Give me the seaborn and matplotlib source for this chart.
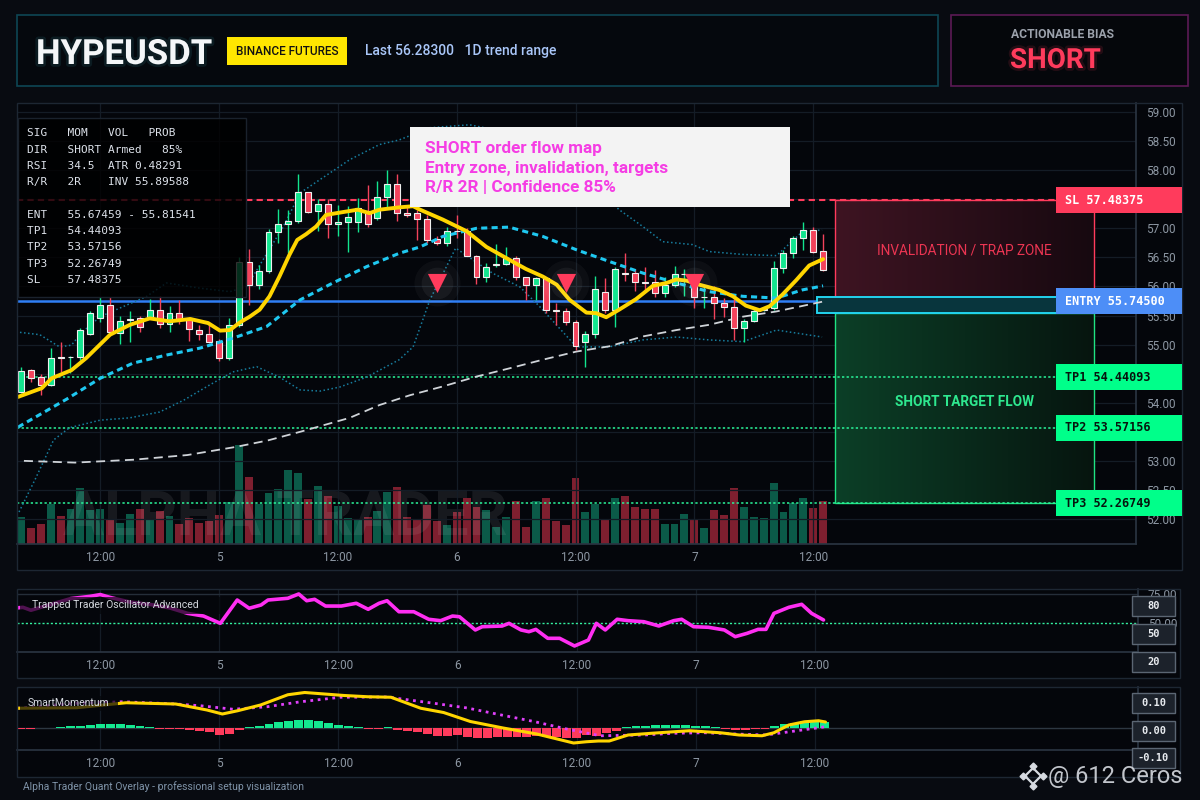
import matplotlib
matplotlib.use("Agg")
import matplotlib.pyplot as plt
import matplotlib.patheffects as pe
import matplotlib.transforms as mtransforms
from matplotlib.colors import LinearSegmentedColormap, to_rgba
from matplotlib.lines import Line2D
from matplotlib.patches import Rectangle
import numpy as np
import pandas as pd
import seaborn as sns

# ---------------- data ----------------
start_time = "2025-12-04 04:00"   # hourly candles, 4th 04:00 -> 7th 13:00

opens = [54.18, 54.56, 54.45, 54.30, 54.78, 54.78, 54.78, 55.18, 55.45, 55.68,
         55.20, 55.42, 55.45, 55.48, 55.60, 55.35, 55.54, 55.45, 55.25, 55.18,
         55.07, 54.77, 55.33, 56.42, 56.02, 56.26, 56.93, 57.07, 57.12, 57.62,
         57.29, 57.42, 57.08, 57.11, 57.11, 57.29, 57.18, 57.54, 57.77, 57.26,
         57.26, 57.16, 56.81, 56.74, 56.96, 56.96, 56.53, 56.16, 56.37, 56.38,
         56.49, 56.16, 56.02, 56.14, 55.59, 55.58, 55.38, 55.04, 55.18, 55.91,
         55.59, 56.23, 56.23, 56.07, 56.07, 55.88, 56.02, 56.21, 56.18, 55.81,
         55.81, 55.71, 55.64, 55.29, 55.40, 55.60, 55.63, 56.31, 56.57, 56.83,
         56.97, 56.61]
highs = [54.61, 54.58, 54.49, 54.94, 55.04, 54.81, 55.29, 55.57, 55.81, 55.81,
         55.50, 55.57, 55.50, 55.78, 55.83, 55.66, 55.77, 55.48, 55.33, 55.34,
         55.10, 55.45, 56.50, 56.64, 56.37, 56.99, 57.33, 57.32, 57.94, 57.63,
         57.50, 57.50, 57.40, 57.38, 57.52, 57.75, 57.81, 58.01, 57.94, 57.38,
         57.32, 57.23, 56.87, 57.03, 57.23, 57.00, 56.54, 56.40, 56.73, 56.68,
         56.52, 56.16, 56.16, 56.16, 55.71, 55.63, 55.43, 55.24, 56.18, 56.14,
         56.34, 56.57, 56.30, 56.34, 56.29, 56.17, 56.36, 56.30, 56.20, 56.00,
         56.00, 55.80, 55.78, 55.44, 55.61, 55.65, 56.43, 56.63, 56.87, 57.10,
         57.02, 56.91]
lows = [54.16, 54.35, 54.13, 54.28, 54.52, 54.51, 54.74, 55.16, 55.38, 55.18,
        55.01, 55.04, 55.21, 55.45, 55.28, 55.22, 55.36, 55.06, 55.08, 55.02,
        54.71, 54.73, 55.31, 55.68, 55.95, 56.23, 56.75, 56.57, 57.09, 57.26,
        56.95, 56.84, 56.87, 56.59, 56.93, 57.03, 57.14, 57.35, 57.12, 57.20,
        56.80, 56.74, 56.72, 56.69, 56.83, 56.52, 56.05, 56.07, 56.33, 56.37,
        56.11, 55.77, 55.77, 55.55, 55.34, 55.34, 54.91, 54.62, 55.11, 55.55,
        55.31, 56.09, 55.92, 55.90, 55.82, 55.82, 55.99, 55.83, 55.63, 55.63,
        55.44, 55.48, 55.08, 55.05, 55.39, 55.57, 55.59, 56.23, 56.49, 56.63,
        56.58, 56.27]
closes = [54.54, 54.42, 54.30, 54.77, 54.77, 54.79, 55.25, 55.54, 55.68, 55.21,
          55.40, 55.42, 55.30, 55.60, 55.35, 55.55, 55.44, 55.26, 55.18, 55.05,
          54.77, 55.34, 56.42, 56.02, 56.26, 56.93, 57.07, 57.13, 57.62, 57.28,
          57.42, 57.07, 57.11, 57.19, 57.35, 57.07, 57.54, 57.77, 57.26, 57.23,
          57.16, 56.80, 56.74, 56.96, 56.95, 56.53, 56.16, 56.34, 56.37, 56.49,
          56.16, 56.02, 56.14, 55.59, 55.58, 55.38, 54.98, 55.18, 55.95, 55.59,
          56.30, 56.22, 56.07, 56.06, 55.88, 56.03, 56.21, 56.21, 55.81, 55.81,
          55.71, 55.64, 55.29, 55.40, 55.58, 55.60, 56.31, 56.57, 56.83, 56.97,
          56.60, 56.28]
volume = [26.7, 15.7, 20.0, 40.0, 28.0, 34.7, 55.7, 34.0, 34.7, 24.0,
          20.7, 30.0, 34.7, 24.7, 33.0, 28.0, 20.0, 25.7, 20.7, 23.3,
          29.0, 42.0, 99.0, 66.7, 40.0, 50.7, 54.7, 74.0, 70.7, 44.7,
          58.0, 48.0, 38.0, 25.7, 24.7, 26.7, 33.0, 52.0, 56.7, 26.7,
          24.0, 39.0, 23.0, 19.0, 32.0, 45.7, 36.7, 34.0, 16.7, 26.7,
          42.7, 16.7, 42.7, 45.7, 23.0, 19.0, 65.7, 31.7, 39.7, 24.7,
          45.7, 48.0, 36.7, 34.7, 34.7, 19.7, 19.7, 30.0, 24.0, 15.7,
          34.0, 29.0, 55.7, 37.0, 27.0, 26.0, 60.7, 32.0, 41.0, 46.0,
          36.0, 42.7]

# overlay lines (x in candle index units)
ema_x = [-0.3, 2.1, 3.1, 5.1, 6.6, 9.0, 11.0, 13.0, 15.0, 17.1, 18.9, 20.1, 21.1,
         22.1, 23.1, 24.1, 25.1, 26.1, 27.1, 27.9, 28.8, 29.8, 30.8, 32.2, 34.0,
         35.2, 36.2, 38.2, 39.6, 40.3, 42.6, 45.0, 47.0, 49.3, 51.0, 52.7, 54.1,
         55.4, 57.1, 58.1, 59.1, 60.4, 62.1, 63.8, 65.2, 66.2, 67.2, 68.5, 70.5,
         71.9, 73.2, 74.6, 75.6, 76.9, 78.3, 79.6, 81.0]
ema_y = [54.10, 54.25, 54.42, 54.56, 54.77, 55.17, 55.34, 55.45, 55.40, 55.44,
         55.37, 55.24, 55.25, 55.38, 55.48, 55.60, 55.83, 56.17, 56.54, 56.80,
         56.90, 57.03, 57.23, 57.27, 57.32, 57.26, 57.32, 57.36, 57.38, 57.32,
         57.15, 56.95, 56.68, 56.46, 56.30, 56.17, 56.03, 55.77, 55.55, 55.54,
         55.47, 55.60, 55.78, 56.01, 56.06, 56.12, 56.10, 56.03, 55.94, 55.83,
         55.67, 55.59, 55.66, 55.86, 56.11, 56.36, 56.47]
trend_x = [-0.3, 4.6, 8.0, 11.3, 14.7, 18.1, 21.4, 24.8, 28.2, 31.5, 34.9, 38.2,
           40.3, 42.6, 46.0, 49.3, 52.7, 56.1, 59.4, 62.8, 66.2, 69.5, 72.9,
           76.3, 78.9, 81.0]
trend_y = [53.58, 54.06, 54.42, 54.68, 54.82, 54.94, 55.11, 55.31, 55.77, 56.06,
           56.34, 56.57, 56.68, 56.86, 57.00, 57.02, 56.86, 56.63, 56.43, 56.23,
           56.06, 55.91, 55.83, 55.80, 55.94, 56.01]
band_up_x = [-0.1, 1.9, 3.9, 5.1, 6.1, 8.0, 12.7, 14.7, 18.1, 21.1, 22.8, 26.5,
             28.2, 33.2, 36.2, 38.2, 41.3, 45.3, 50.4, 54.4, 57.4, 60.4, 62.8,
             64.8, 67.8, 69.5, 72.9, 76.3, 78.9, 80.9]
band_up_y = [55.21, 55.17, 54.96, 54.99, 55.20, 55.48, 55.83, 56.06, 55.97, 55.91,
             56.00, 57.03, 57.61, 58.18, 58.44, 58.52, 58.73, 58.78, 58.61, 58.27,
             57.83, 57.32, 57.03, 56.77, 56.72, 56.60, 56.55, 56.53, 56.94, 56.97]
band_lo_x = [-0.2, 1.4, 3.3, 4.9, 8.0, 11.0, 14.0, 16.5, 19.1, 21.4, 23.8, 26.1,
             28.2, 30.2, 32.2, 34.9, 38.2, 39.6, 41.3, 43.9, 47.6, 50.4, 52.4,
             56.1, 59.4, 62.8, 66.2, 69.5, 72.9, 76.3, 80.9]
band_lo_y = [52.12, 52.67, 53.36, 53.57, 53.70, 53.74, 53.84, 54.05, 54.31, 54.53,
             54.62, 54.44, 54.22, 54.20, 54.27, 54.44, 54.74, 54.96, 55.77, 56.66,
             56.23, 55.99, 55.65, 54.96, 54.96, 55.08, 55.13, 55.08, 55.05, 55.25,
             55.13]
slow_x = [0.3, 5.45, 11.4, 16.8, 21.7, 24.9, 28.2, 33.2, 36.2, 39.3, 42.6, 46.0,
          49.3, 52.7, 56.1, 59.4, 62.8, 66.2, 69.5, 72.9, 76.3, 81.0]
slow_y = [53.00, 52.97, 53.02, 53.10, 53.24, 53.35, 53.50, 53.74, 53.96, 54.13,
          54.28, 54.45, 54.59, 54.74, 54.88, 54.97, 55.14, 55.25, 55.34, 55.48,
          55.57, 55.74]

signal_idx = [42, 55, 68]
signal_price = [56.06, 56.06, 56.06]

# trade plan levels
sl_level = 57.48375
entry_level = 55.745
entry_box = (55.55, 55.82)
tp_levels = [54.44093, 53.57156, 52.26749]
level_labels = ["SL 57.48375", "ENTRY 55.74500", "TP1 54.44093", "TP2 53.57156", "TP3 52.26749"]

info_lines = ["SIG   MOM   VOL   PROB",
              "DIR   SHORT Armed   85%",
              "RSI   34.5  ATR 0.48291",
              "R/R   2R    INV 55.89588",
              "",
              "ENT   55.67459 - 55.81541",
              "TP1   54.44093",
              "TP2   53.57156",
              "TP3   52.26749",
              "SL    57.48375"]
note_lines = ["SHORT order flow map", "Entry zone, invalidation, targets", "R/R 2R | Confidence 85%"]

# Trapped Trader Oscillator
osc_x = [-0.4, 0.2, 1, 3, 5, 7, 8, 9, 11, 13, 15, 16.8, 18.4, 20.1, 21.8, 23, 24.2,
         24.9, 26.9, 28, 28.8, 29.6, 30.7, 32.3, 33.8, 35, 36.1, 36.9, 38.1, 39.6,
         41.1, 42.3, 43.5, 44.2, 45.8, 46.5, 48.5, 49.2, 50.4, 51.2, 51.9, 53.1,
         54.3, 55.8, 57.2, 58, 58.9, 60.1, 61.2, 62.8, 64.3, 65.8, 66.6, 67.8,
         69.3, 70.9, 72, 73.2, 74.3, 75.1, 75.9, 77.4, 78.7, 79.7, 80.9]
osc_v = [63, 63.5, 61, 66, 71, 73, 74.5, 72, 68, 66, 63, 58.3, 56, 49.7, 69.8, 62.7,
         65.5, 69.8, 71.3, 75, 69.2, 70.4, 64.6, 64.6, 67, 61.8, 67, 69.2, 59.7,
         59.7, 53.2, 52, 56, 55.4, 44, 46.8, 47.4, 49.7, 44, 42.5, 44.5, 36.8, 36.8,
         30.2, 35.3, 49.7, 44, 53.2, 52, 51.1, 47.4, 52, 53.2, 46.8, 46.3, 44, 38.2,
         41.1, 44.5, 44.5, 58.3, 63.5, 66.1, 58.3, 52.6]
osc_boxes = ["80", "50", "20"]

# SmartMomentum
mom_hist = [-0.003, -0.003, -0.001, 0.001, 0.005, 0.007, 0.008, 0.013, 0.016, 0.016,
            0.015, 0.011, 0.008, 0.004, -0.003, -0.004, -0.005, -0.009, -0.013, -0.017,
            -0.027, -0.023, -0.007, 0.005, 0.009, 0.017, 0.025, 0.029, 0.033, 0.033,
            0.029, 0.021, 0.013, 0.009, 0.005, -0.003, -0.003, 0.003, -0.007, -0.011,
            -0.015, -0.023, -0.031, -0.031, -0.027, -0.035, -0.039, -0.039, -0.036, -0.036,
            -0.035, -0.035, -0.031, -0.036, -0.036, -0.041, -0.041, -0.028, -0.031, -0.020,
            -0.010, 0.005, 0.008, 0.009, 0.011, 0.011, 0.012, 0.011, 0.009, 0.007,
            0.003, -0.005, -0.008, -0.007, -0.005, -0.003, 0.008, 0.016, 0.022, 0.027,
            0.030, 0.024]
mom_x = [-0.4, 5.6, 10.6, 15.6, 18.75, 20.3, 21.84, 24.15, 26.9, 28.6, 32.6, 34.96,
         37.3, 40.3, 42.6, 45.3, 48.6, 52.0, 55.7, 57.0, 58.2, 59.3,
         61.2, 63.6, 65.8, 67.4, 70.5, 72.4, 74.7, 75.9, 77.4, 79.0, 80.4, 81.1]
mom_v = [0.079, 0.081, 0.101, 0.096, 0.072, 0.056, 0.069, 0.092, 0.133, 0.142, 0.130,
         0.125, 0.123, 0.079, 0.062, 0.026, 0.000, -0.024, -0.060, -0.055, -0.052,
         -0.052, -0.028, -0.021, -0.015, -0.011, -0.019, -0.028,
         -0.031, -0.019, 0.012, 0.025, 0.029, 0.024]
msig_x = [-0.4, 5.6, 10.3, 15.6, 18.1, 21.4, 24.8, 28.2, 32.2, 36.9, 41.6, 45.0,
          48.3, 51.7, 55.0, 58.4, 62.8, 65.8, 68.9, 72, 75.1, 78.2, 81.1]
msig_v = [0.079, 0.099, 0.105, 0.096, 0.089, 0.075, 0.085, 0.105, 0.123, 0.124, 0.099,
          0.080, 0.053, 0.026, -0.004, -0.031, -0.028, -0.021, -0.019,
          -0.024, -0.028, -0.011, 0.005]
mom_boxes = ["0.10", "0.00", "-0.10"]

# ---------------- style ----------------
W, H = 1200, 800
BG = "#080b11"
PANEL = "#04060b"
GRID = "#141c26"
TXT = "#8d97a3"
UP, DN = "#12e58f", "#f3435c"
VUP, VDN = "#0b5a48", "#7e1f2f"
RED = "#ff3b5c"
TPG = "#00ff8a"

sns.set_theme(style="dark", rc={"figure.facecolor": BG, "axes.facecolor": PANEL,
                                 "axes.edgecolor": "#2a3441", "grid.color": GRID})
plt.rcParams["font.family"] = ["Roboto", "DejaVu Sans"]

fig = plt.figure(figsize=(12, 8), dpi=100, facecolor=BG)


def fx(x):
    return x / W


def fy(y):
    return 1 - y / H


def box(x0, y0, x1, y1):
    return [fx(x0), fy(y1), (x1 - x0) / W, (y1 - y0) / H]


def frame(x0, y0, x1, y1, ec="none", fc="none", lw=1.0, z=4, alpha=1.0):
    r = Rectangle((fx(x0), fy(y1)), (x1 - x0) / W, (y1 - y0) / H,
                  transform=fig.transFigure, facecolor=to_rgba(fc, alpha) if fc != "none" else "none",
                  edgecolor=ec, lw=lw, zorder=z)
    fig.add_artist(r)
    return r


def ftext(x, y, s, **kw):
    kw.setdefault("zorder", 8)
    return fig.text(fx(x), fy(y), s, **kw)


times = pd.date_range(start_time, periods=len(opens), freq="h")
idx = np.arange(len(opens))
tick_pos = [i for i, t in enumerate(times) if t.hour in (0, 12)]
tick_lab = ["12:00" if times[i].hour == 12 else str(times[i].day) for i in tick_pos]
XMIN, XMAX = -0.4, 112.6
YMIN, YMAX = 51.57, 59.155

# panel backgrounds / frames
for (a, b, c, d) in [(17, 103, 1182, 570), (17, 589, 1180, 678), (17, 687, 1180, 777)]:
    frame(a, b, c, d, fc=PANEL, z=-1)
    frame(a, b, c, d, ec="#1d2733", z=4)

# ---------------- main price panel ----------------
ax = fig.add_axes(box(17, 103, 1136, 544))
axv = ax.twinx()
ax.set_zorder(axv.get_zorder() + 1)
ax.patch.set_visible(False)
axv.set_facecolor(PANEL)

o, hi, lo, c = map(np.array, (opens, highs, lows, closes))
is_up = c >= o
axv.bar(idx, volume, width=0.8, color=[VUP if u else VDN for u in is_up], linewidth=0, zorder=2)
axv.text(0.24, 0.06, "ALPHA TRADER", transform=axv.transAxes, ha="center", va="center",
         fontsize=44, fontweight="bold", color="white", alpha=0.08, zorder=3)
axv.set_ylim(0, 441)
axv.set_yticks([])
for s in axv.spines.values():
    s.set_visible(False)


# zones
def gradient_zone(x0, x1, y0, y1, c_left, c_right):
    cmap = LinearSegmentedColormap.from_list("z", [c_left, c_right])
    ax.imshow(np.linspace(0, 1, 200).reshape(1, -1), extent=(x0, x1, y0, y1),
              aspect="auto", cmap=cmap, zorder=1.5, interpolation="bilinear")


zone_x0, zone_x1 = len(opens) + 0.2, len(opens) + 26.4
gradient_zone(zone_x0, zone_x1, entry_level, sl_level, "#3e1422", "#170910")
gradient_zone(zone_x0, zone_x1, tp_levels[2], entry_box[0], "#0c3f27", "#06150f")
ax.add_patch(Rectangle((zone_x0, entry_level), zone_x1 - zone_x0, sl_level - entry_level,
                       fill=False, ec=RED, lw=1, zorder=2))
ax.add_patch(Rectangle((zone_x0, tp_levels[2]), zone_x1 - zone_x0, entry_box[0] - tp_levels[2],
                       fill=False, ec="#1fe383", lw=1, zorder=2))
ax.add_patch(Rectangle((len(opens) - 1.6, entry_box[0]), zone_x1 - len(opens) + 1.6,
                       entry_box[1] - entry_box[0], fc="#08353d", ec="#22d3ee", lw=1.4, zorder=2.5))
ax.text((zone_x0 + zone_x1) / 2, (entry_level + sl_level) / 2, "INVALIDATION / TRAP ZONE",
        ha="center", va="center", color="#ec3552", fontsize=9.8, zorder=3)
ax.text((zone_x0 + zone_x1) / 2, (tp_levels[2] + entry_box[0]) / 2 + 0.1, "SHORT TARGET FLOW",
        ha="center", va="center", color="#2ee88f", fontsize=9.8, fontweight="bold", zorder=3)

# levels
ax.axhline(sl_level, color=RED, lw=1.5, ls=(0, (3, 2)), zorder=2)
ax.axhline(entry_level, color="#2f7ef5", lw=1.8, zorder=2)
for lv in tp_levels:
    ax.axhline(lv, color="#2af59a", lw=1.1, ls=(0, (1.5, 1.5)), zorder=2)

# candles
ccol = [UP if u else DN for u in is_up]
ax.vlines(idx, lo, hi, colors=ccol, lw=1, zorder=4)
ax.bar(idx, np.maximum(np.abs(c - o), 0.012), bottom=np.minimum(o, c), width=0.6,
       color=ccol, edgecolor="#f0f0f0", linewidth=0.8, zorder=5)

# indicator lines
sns.lineplot(x=band_up_x, y=band_up_y, ax=ax, color="#177d9e", lw=1.1, ls=":", sort=False, estimator=None, zorder=3)
sns.lineplot(x=band_lo_x, y=band_lo_y, ax=ax, color="#177d9e", lw=1.1, ls=":", sort=False, estimator=None, zorder=3)
sns.lineplot(x=slow_x, y=slow_y, ax=ax, color="#cfd3d8", lw=1.3, ls=(0, (5, 3)), sort=False, estimator=None, zorder=3)
sns.lineplot(x=trend_x, y=trend_y, ax=ax, color="#1fc8f0", lw=2.2, ls=(0, (2, 1.4)), sort=False, estimator=None, zorder=6)
sns.lineplot(x=ema_x, y=ema_y, ax=ax, color="#ffd500", lw=2.8, sort=False, estimator=None, zorder=7,
             solid_joinstyle="round", solid_capstyle="round")

# signal markers
ax.scatter(signal_idx, signal_price, s=1100, color="white", alpha=0.035, lw=0, zorder=7)
ax.scatter(signal_idx, signal_price, s=520, color="white", alpha=0.05, lw=0, zorder=7)
ax.scatter(signal_idx, signal_price, s=190, marker="v", color=RED, lw=0, zorder=8)

ax.set_xlim(XMIN, XMAX)
ax.set_ylim(YMIN, YMAX)
ax.set_xticks(tick_pos)
ax.set_xticklabels(tick_lab)
ax.yaxis.tick_right()
pticks = np.arange(52, 59.01, 0.5)
covered = [sl_level] + tp_levels[:2]
ax.set_yticks(pticks)
ax.set_yticklabels(["" if min(abs(v - lv) for lv in covered) < 0.15 else f"{v:.2f}" for v in pticks])
ax.tick_params(axis="both", length=0, colors=TXT, labelsize=8.5)
ax.tick_params(axis="y", pad=7)
ax.tick_params(axis="x", pad=5)
ax.grid(True, color=GRID, lw=0.9)
ax.set_xlabel("")
ax.set_ylabel("")
for k in ("top", "left"):
    ax.spines[k].set_visible(False)
for k in ("right", "bottom"):
    ax.spines[k].set_color("#2a3441")

# level labels on the right
blend = mtransforms.blended_transform_factory(fig.transFigure, ax.transData)
half = 13 / (441 / (YMAX - YMIN))
for lv, lab, fc, tc in zip([sl_level, entry_level] + tp_levels, level_labels,
                           [RED, "#4d8ef7", TPG, TPG, TPG],
                           ["white", "white", "#06140d", "#06140d", "#06140d"]):
    fig.add_artist(Rectangle((fx(1056), lv - half), 126 / W, 2 * half, transform=blend,
                             facecolor=fc, edgecolor="none", zorder=9))
    fig.text(fx(1065), lv, lab, transform=blend, va="center", ha="left", color=tc,
             fontsize=8.5, fontweight="bold", family="DejaVu Sans Mono", zorder=10)

# info box (top-left)
frame(18, 118, 246, 297, ec="#1a222d", fc="#000000", alpha=0.8, z=6)
line_y = [133, 150, 166, 182, 198, 215, 231, 247, 264, 280]
for yy, s in zip(line_y, info_lines):
    ftext(27, yy, s, va="center", ha="left", color="#dde2ea", fontsize=8,
          family="DejaVu Sans Mono")

# note box
frame(410, 127, 790, 207, fc="#f3f3f3", alpha=1.0, z=6)
for yy, s in zip([148, 168, 188], note_lines):
    ftext(425, yy, s, va="center", ha="left", color="#f53de4", fontsize=12.3, fontweight="bold")

# ---------------- oscillator panel ----------------
ax2 = fig.add_axes(box(17, 589, 1138, 652))
sns.lineplot(x=osc_x, y=osc_v, ax=ax2, color="#ff2ef2", lw=2.6, sort=False, estimator=None, zorder=4)
ax2.axhline(50, color="#33f0a0", lw=1, ls=(0, (1.5, 1.5)), zorder=3)
ax2.axhline(75, color="#252e39", lw=1, zorder=2)
ax2.set_xlim(XMIN, XMAX)
ax2.set_ylim(25, 79.3)
ax2.set_xticks(tick_pos)
ax2.set_xticklabels(tick_lab)
ax2.yaxis.tick_right()
ax2.set_yticks([50, 75])
ax2.set_yticklabels(["50.00", "75.00"])
ax2.tick_params(axis="both", length=0, colors=TXT, labelsize=8.5)
ax2.tick_params(axis="x", pad=5)
ax2.tick_params(axis="y", pad=7)
ax2.grid(True, axis="x", color=GRID, lw=0.9)
ax2.grid(False, axis="y")
ax2.set_xlabel("")
ax2.set_ylabel("")
for k in ("top", "left"):
    ax2.spines[k].set_visible(False)
for k in ("right", "bottom"):
    ax2.spines[k].set_color("#2a3441")
frame(20, 597, 220, 614, fc="#05070b", alpha=0.7, z=6)
ftext(32, 605.5, "Trapped Trader Oscillator Advanced", va="center", color="#d4d8de", fontsize=7.5)

# ---------------- momentum panel ----------------
ax3 = fig.add_axes(box(17, 687, 1138, 750))
mh = np.array(mom_hist)
ax3.bar(idx, mh, width=0.9, color=np.where(mh >= 0, "#14e890", "#ff3b5c"), linewidth=0, zorder=3)
ax3.axhline(0, color="#2d3742", lw=1, zorder=2)
sns.lineplot(x=msig_x, y=msig_v, ax=ax3, color="#e040fb", lw=2, ls=":", sort=False, estimator=None, zorder=4)
sns.lineplot(x=mom_x, y=mom_v, ax=ax3, color="#ffd500", lw=2.2, sort=False, estimator=None, zorder=5)
ax3.set_xlim(XMIN, XMAX)
ax3.set_ylim(-0.088, 0.164)
ax3.set_xticks(tick_pos)
ax3.set_xticklabels(tick_lab)
ax3.set_yticks([])
ax3.tick_params(axis="both", length=0, colors=TXT, labelsize=8.5)
ax3.tick_params(axis="x", pad=5)
ax3.grid(True, axis="x", color=GRID, lw=0.9)
ax3.grid(False, axis="y")
ax3.set_xlabel("")
ax3.set_ylabel("")
for k in ("top", "left"):
    ax3.spines[k].set_visible(False)
for k in ("right", "bottom"):
    ax3.spines[k].set_color("#2a3441")
frame(20, 696, 118, 711, fc="#05070b", alpha=0.7, z=6)
ftext(28, 703.5, "SmartMomentum", va="center", color="#d4d8de", fontsize=7.5)

# value boxes at the right of the lower panels
for labs, ys in ((osc_boxes, [606, 634, 662]), (mom_boxes, [703, 731, 758])):
    for lab, yc in zip(labs, ys):
        frame(1132, yc - 10, 1175, yc + 10, ec="#5b6673", fc="#1c222b", lw=1, z=7)
        ftext(1153.5, yc, lab, ha="center", va="center", color="#e8ebef", fontsize=7.5,
              fontweight="bold", family="DejaVu Sans Mono", zorder=9)

# ---------------- header ----------------
frame(17, 15, 938, 86, ec="#0e4654", fc="#05080d", lw=1.2, z=2)
frame(951, 15, 1188, 86, ec="#5c1a55", fc="#05070b", lw=1.2, z=2)
ftext(36, 64, "HYPEUSDT", va="baseline", ha="left", color="#f4f6f8", fontsize=25,
      fontweight="bold", path_effects=[pe.withStroke(linewidth=4, foreground="#1d5560", alpha=0.25)])
frame(227, 37, 347, 65, fc="#ffe600", z=3)
ftext(287, 51.5, "BINANCE FUTURES", ha="center", va="center", color="#111111", fontsize=8.5,
      fontweight="medium")
ftext(365, 51.5, "Last 56.28300   1D trend range", ha="left", va="center", color="#a9c6f8",
      fontsize=10, fontweight="medium")
ftext(1011, 38, "ACTIONABLE BIAS", ha="left", va="baseline", color="#9ba1ab", fontsize=8.7,
      fontweight="bold")
ftext(1010, 68, "SHORT", ha="left", va="baseline", color=RED, fontsize=20, fontweight="bold",
      path_effects=[pe.withStroke(linewidth=4, foreground=RED, alpha=0.12)])

# ---------------- footer / watermark ----------------
ftext(23, 787, "Alpha Trader Quant Overlay - professional setup visualization", va="center",
      color="#7f93a8", fontsize=7.5)
ftext(1048, 777, "@ 612 Ceros", va="center", ha="left", color="#d6dae0", fontsize=17, alpha=0.9)
fig.add_artist(Line2D([fx(1033)], [fy(776)], marker="D", ms=8, mfc="none", mec="#d6dae0",
                      mew=1.6, transform=fig.transFigure, zorder=8))
fig.add_artist(Line2D([fx(1023), fx(1043), fx(1033), fx(1033)], [fy(776), fy(776), fy(766), fy(786)],
                      ls="none", marker="D", ms=3.5, color="#d6dae0", transform=fig.transFigure, zorder=8))

fig.savefig("out.png", dpi=100, facecolor=BG)
